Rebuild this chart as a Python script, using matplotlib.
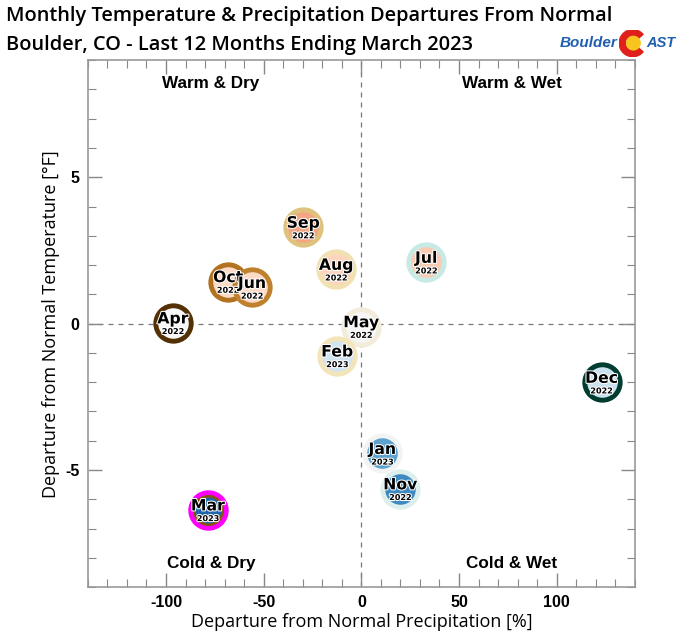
import matplotlib
matplotlib.use("Agg")
import matplotlib.pyplot as plt
import matplotlib.patheffects as pe
from matplotlib.ticker import MultipleLocator
from matplotlib.patches import Circle, Wedge

# ---- data ----
months = ["Apr", "May", "Oct", "Jun", "Jul", "Aug", "Sep", "Dec", "Jan", "Nov", "Feb", "Mar"]
years = ["2022", "2022", "2022", "2022", "2022", "2022", "2022", "2022", "2023", "2022", "2023", "2023"]
precip_dep = [-96.4, 0.0, -68.2, -55.9, 33.3, -12.8, -29.7, 123.0, 10.8, 20.0, -12.3, -78.5]
temp_dep = [0.03, -0.1, 1.44, 1.24, 2.1, 1.86, 3.3, -2.0, -4.43, -5.64, -1.1, -6.36]
fill_colors = ["#F7F7F7", "#F7F7F7", "#FDDBC7", "#FDDBC7", "#F8CCB4", "#FDD5BE", "#F4A582",
               "#C9E2EE", "#5DA2CF", "#3E89C2", "#D1E5F0", "#2166AC"]
edge_colors = ["#543005", "#F3ECDA", "#B2721F", "#BF812D", "#C7EAE5", "#F1E0B0", "#DFC27D",
               "#003C30", "#F2F4F4", "#DDEFEC", "#F3E4BA", "#8C510A"]
quadrants = ["Warm & Dry", "Warm & Wet", "Cold & Dry", "Cold & Wet"]

fig = plt.figure(figsize=(6.76, 6.34), dpi=100)
ax = fig.add_axes([0.130, 0.074, 0.809, 0.831])
ax.set_xlim(-140, 140)
ax.set_ylim(-9, 9)

ax.axhline(0, color="#777777", lw=0.9, ls=(0, (4, 4)), zorder=1)
ax.axvline(0, color="#777777", lw=0.9, ls=(0, (4, 4)), zorder=1)

stroke = [pe.withStroke(linewidth=1.5, foreground="white")]
for i, (m, yr, x, y, fc, ec) in enumerate(zip(months, years, precip_dep, temp_dep, fill_colors, edge_colors)):
    z = 3 + i * 2
    if m == "Mar":
        ax.plot([x], [y], "o", ms=25.5, mfc=fc, mec="#FF00FF", mew=3.6, zorder=z)
        ax.plot([x], [y], "o", ms=20.5, mfc=fc, mec=ec, mew=1.8, zorder=z + 0.5)
    else:
        ax.plot([x], [y], "o", ms=25.5, mfc=fc, mec=ec, mew=3.5, zorder=z)
    ax.annotate(m, (x, y), xytext=(0, 2.8), textcoords="offset points", ha="center", va="center",
                fontsize=11.3, fontweight="bold", family="DejaVu Sans", color="black",
                path_effects=stroke, zorder=100)
    ax.annotate(yr, (x, y), xytext=(0, -6.3), textcoords="offset points", ha="center", va="center",
                fontsize=5.8, fontweight="bold", family="DejaVu Sans", color="black",
                path_effects=stroke, zorder=100)

qpos = [(0.225, 0.955), (0.775, 0.955), (0.225, 0.045), (0.775, 0.045)]
for q, (qx, qy) in zip(quadrants, qpos):
    ax.text(qx, qy, q, transform=ax.transAxes, ha="center", va="center", fontsize=12.3,
            fontweight="bold", family="Liberation Sans", zorder=2)

ax.xaxis.set_major_locator(MultipleLocator(50))
ax.xaxis.set_minor_locator(MultipleLocator(10))
ax.yaxis.set_major_locator(MultipleLocator(5))
ax.yaxis.set_minor_locator(MultipleLocator(1))
ax.tick_params(which="both", direction="in", top=True, right=True, color="#888888")
ax.tick_params(which="major", length=10, width=1)
ax.tick_params(which="minor", length=6, width=0.8)
ax.tick_params(axis="both", labelsize=11.5, pad=6)
ax.set_xticks([-100, -50, 0, 50, 100])
ax.set_xticklabels(["-100", "-50", "0", "50", "100"], family="Liberation Sans", fontweight="bold", fontsize=11.5)
ax.set_yticks([-5, 0, 5])
ax.set_yticklabels(["-5", "0", "5"], family="Liberation Sans", fontweight="bold", fontsize=11.5)
for s in ax.spines.values():
    s.set_color("#999999")
    s.set_linewidth(1.2)

ax.set_xlabel("Departure from Normal Precipitation [%]", fontsize=13, family="Open Sans", labelpad=2)
ax.set_ylabel("Departure from Normal Temperature [°F]", fontsize=13, family="Open Sans", labelpad=4)

fig.text(0.009, 0.975, "Monthly Temperature & Precipitation Departures From Normal", fontsize=14.4,
         family="Open Sans", fontweight="semibold", ha="left", va="center")
fig.text(0.009, 0.929, "Boulder, CO - Last 12 Months Ending March 2023", fontsize=14.4,
         family="Open Sans", fontweight="semibold", ha="left", va="center")

# logo
fig.text(0.913, 0.932, "Boulder", fontsize=11, family="Liberation Sans", fontweight="bold",
         style="italic", color="#1F5FB0", ha="right", va="center")
circ_ax = fig.add_axes([0.916, 0.907, 0.040, 0.05])
circ_ax.set_xlim(-1, 1); circ_ax.set_ylim(-1, 1); circ_ax.set_aspect("equal"); circ_ax.axis("off")
circ_ax.add_patch(Wedge((0, 0), 1.0, 40, 320, width=0.45, color="#E0201B"))
circ_ax.add_patch(Circle((0.05, 0), 0.5, color="#F7C51E"))
fig.text(0.956, 0.932, "AST", fontsize=10.5, family="Liberation Sans", fontweight="bold",
         style="italic", color="#1F5FB0", ha="left", va="center")

fig.savefig("out.png", dpi=100)
